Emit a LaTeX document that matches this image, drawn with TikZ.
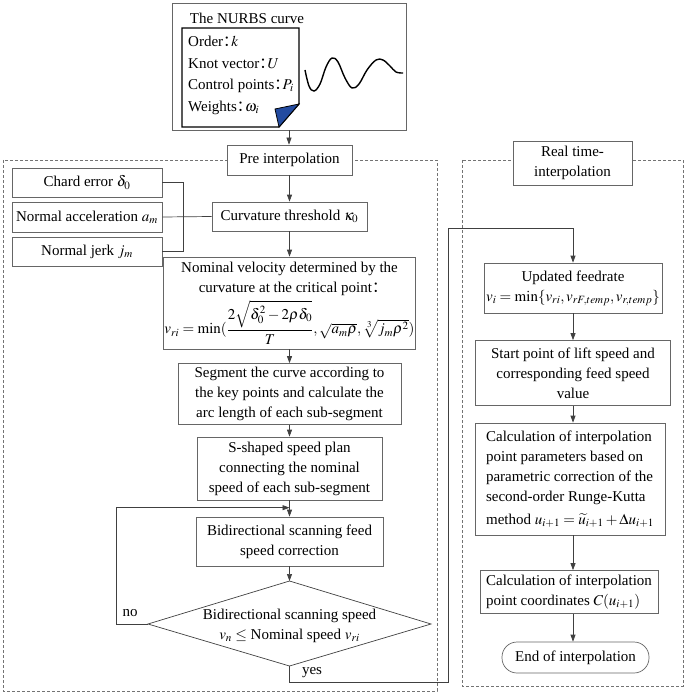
\documentclass[tikz,border=0pt]{standalone}
\usepackage{amsmath}
\usepackage{mathptmx}
\usepackage{fontspec}
\setmainfont{Liberation Serif}
\newfontfamily\cjk{Noto Sans CJK SC}
\usetikzlibrary{arrows.meta,calc}
\definecolor{foldblue}{RGB}{35,75,160}
\newcommand{\fcolon}{\makebox[0.55em][l]{\cjk ：}}
\begin{document}
\begin{tikzpicture}[x=1pt,y=-1pt,
  box/.style={draw=black!60,line width=0.7pt,fill=white,inner sep=2pt,align=center,font=\fontsize{15}{20}\selectfont},
  txt/.style={inner sep=0pt,font=\fontsize{15}{20}\selectfont},
  frame/.style={draw=black!55,line width=0.6pt,dash pattern=on 3pt off 2pt},
  link/.style={draw=black!75,line width=0.7pt},
  arr/.style={link,-{Triangle[length=7pt,width=5pt]}},
]
\useasboundingbox (0,0) rectangle (685,695);

% dashed frames
\draw[frame] (3,160) rectangle (437,691);
\draw[frame] (462,160) rectangle (683,686);

% NURBS box
\node[box,minimum width=234pt,minimum height=127pt] (nurbs) at (289,66.5) {};
\node[txt] (title) at (247,18) {The NURBS curve};
\draw[line width=1.3pt,fill=white] (182,28) -- (299,28) -- (299,104) -- (279,127) -- (182,127) -- cycle;
\draw[line width=0.8pt,fill=foldblue] (299,104) -- (275,109) -- (279,127) -- cycle;
\node[txt,anchor=north west,align=left,font=\fontsize{15}{21.5}\selectfont] (params) at (188,36)
  {Order\fcolon$k$\\Knot vector\fcolon$U$\\Control points\fcolon$P_i$\\Weights\fcolon$\omega_i$};
\draw[line width=1.4pt] plot[smooth,tension=0.6] coordinates {(305,70) (309,86) (314,91) (320,84) (326,67) (332,58) (338,62) (345,78) (352,88) (359,84) (367,70) (376,60) (383,60) (390,66) (396,72) (403,73)};

% left column
\node[box,minimum width=125pt,minimum height=30pt] (pre) at (289.5,160) {Pre interpolation};
\node[box,minimum width=150pt,minimum height=29pt] (chard) at (87,182.5) {Chard error $\delta_0$};
\node[box,minimum width=150pt,minimum height=30pt] (acc) at (87,217) {Normal acceleration $a_m$};
\node[box,minimum width=150pt,minimum height=29pt] (jerk) at (87,251.5) {Normal jerk $j_m$};
\node[box,minimum width=155pt,minimum height=29pt] (curv) at (289.5,216.5) {Curvature threshold $\kappa_0$};
\node[box,minimum width=226pt,minimum height=92pt,inner sep=1pt] (nom) at (289.5,303)
  {Nominal velocity determined by the\\curvature at the critical point\fcolon\\[4pt]
   $v_{ri}=\min(\dfrac{2\sqrt{\delta_0^2-2\rho\delta_0}}{T},\sqrt{a_m\rho},\sqrt[3]{j_m\rho^2})$};
\node[box,minimum width=223pt,minimum height=61pt] (seg) at (289.5,394)
  {Segment the curve according to\\the key points and calculate the\\arc length of each sub-segment};
\node[box,minimum width=185pt,minimum height=63pt] (s) at (289.5,468.5)
  {S-shaped speed plan\\connecting the nominal\\speed of each sub-segment};
\node[box,minimum width=187pt,minimum height=49pt] (bid) at (289.5,541.5)
  {Bidirectional scanning feed\\speed correction};
\coordinate (dtop) at (289.5,581);
\coordinate (dleft) at (148,624);
\coordinate (dright) at (431,624);
\coordinate (dbot) at (289.5,666);
\draw[link] (dtop) -- (dright) -- (dbot) -- (dleft) -- cycle;
\node[txt,align=center] (dia) at (289.5,626) {Bidirectional scanning speed\\$v_n \le$ Nominal speed $v_{ri}$};
\node[txt] (no) at (130,613) {no};
\node[txt] (yes) at (312,673) {yes};

% right column
\node[box,minimum width=119pt,minimum height=44pt] (rt) at (572.5,163) {Real time-\\interpolation};
\node[box,minimum width=170pt,minimum height=50pt] (upd) at (573,288)
  {Updated feedrate\\$v_i=\min\{v_{ri},v_{rF,temp},v_{r,temp}\}$};
\node[box,minimum width=195pt,minimum height=65pt] (start) at (573,373)
  {Start point of lift speed and\\corresponding feed speed\\value};
\node[box,minimum width=190pt,minimum height=112pt,align=left] (calc) at (570,479)
  {Calculation of interpolation\\point parameters based on\\parametric correction of the\\second-order Runge-Kutta\\[3pt]method $u_{i+1}=\widetilde{u}_{i+1}+\Delta u_{i+1}$};
\node[box,minimum width=178pt,minimum height=43pt,align=left] (coord) at (569,592)
  {Calculation of interpolation\\point coordinates $C(u_{i+1})$};
\node[box,minimum width=147pt,minimum height=31pt,rounded corners=15pt] (endn) at (575.5,657.5) {End of interpolation};

% connectors
\draw[arr] (nurbs.south) -- (nurbs.south |- pre.north);
\draw[arr] (pre.south) -- (curv.north);
\draw[link] (chard.east) -| ($(acc.east)+(21,0)$) |- (jerk.east);
\draw[link] (acc.east) -- (curv.west);
\draw[arr] (curv.south) -- (nom.north);
\draw[arr] (nom.south) -- (seg.north);
\draw[arr] (seg.south) -- (s.north);
\coordinate (loopj) at ($(s.south)!0.45!(bid.north)$);
\draw[arr] (s.south) -- (bid.north);
\draw[arr] (dleft) -- ++(-32,0) |- (loopj);
\draw[arr] (bid.south) -- (dtop);
\coordinate (yescorner) at (448,228);
\draw[arr] (dbot) -- ++(0,16) -| (yescorner) -| (upd.north);
\draw[arr] (upd.south) -- (upd.south |- start.north);
\draw[arr] (upd.south |- start.south) -- (upd.south |- calc.north);
\draw[arr] (upd.south |- calc.south) -- (upd.south |- coord.north);
\draw[arr] (upd.south |- coord.south) -- (upd.south |- endn.north);
\end{tikzpicture}
\end{document}
